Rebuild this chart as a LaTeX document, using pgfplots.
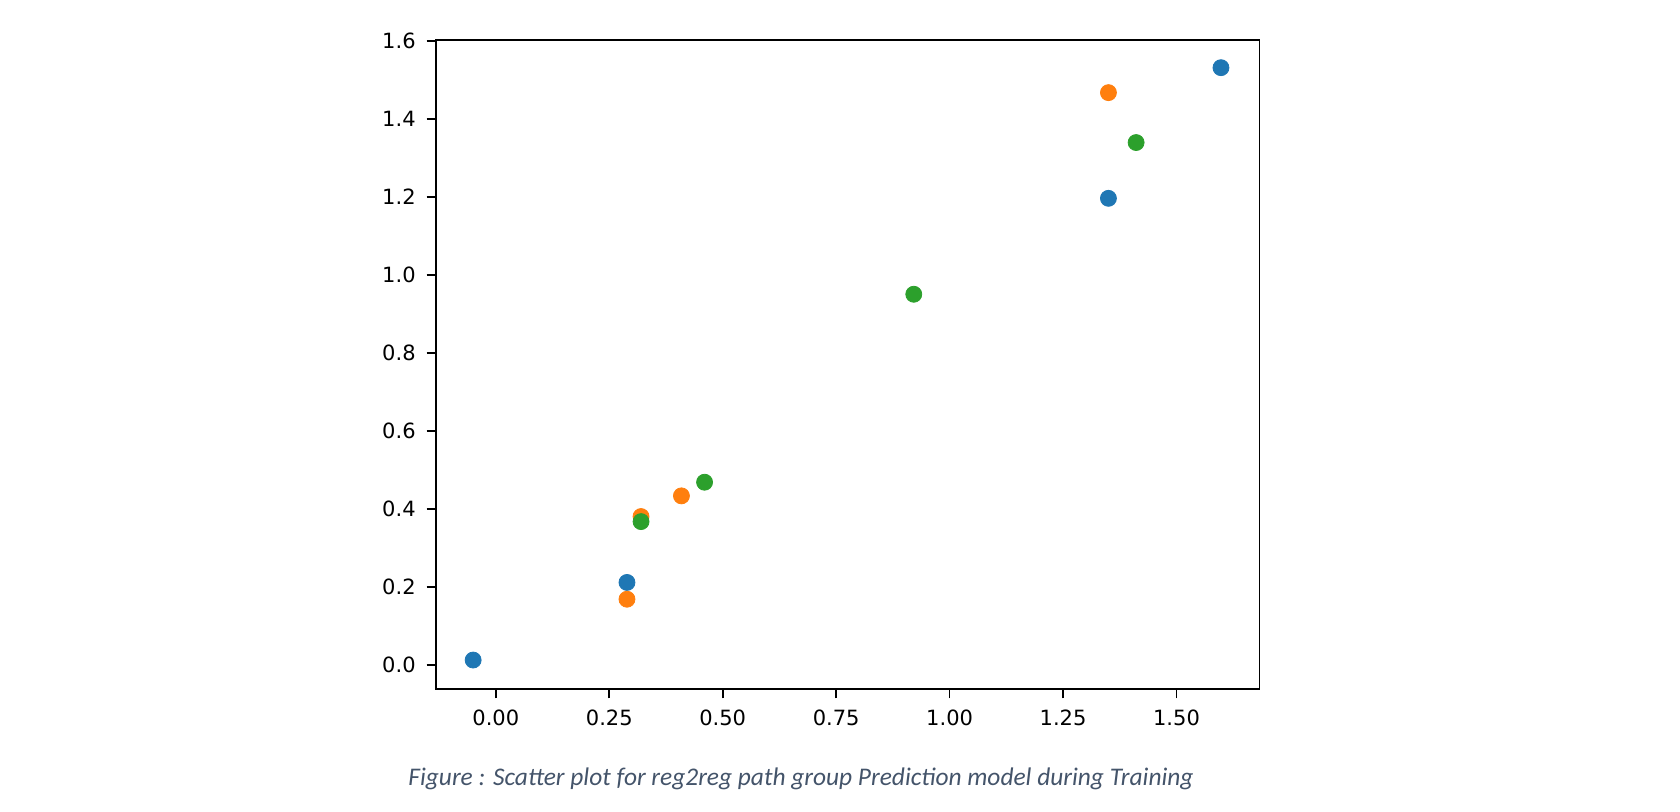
\documentclass[border=0pt]{standalone}
\usepackage{pgfplots}
\pgfplotsset{compat=1.18}
\usepackage{fontspec}
\setmainfont{DejaVu Sans}
\newfontfamily\capfont{Carlito}

\definecolor{tabblue}{HTML}{1F77B4}
\definecolor{taborange}{HTML}{FF7F0E}
\definecolor{tabgreen}{HTML}{2CA02C}
\definecolor{capcol}{HTML}{44546A}

\begin{document}
\begin{tikzpicture}
    \path[use as bounding box] (0,0) rectangle (840pt,406pt);
    \begin{axis}[
        at={(217.85pt,61.35pt)},
        anchor=south west,
        scale only axis,
        width=411.8pt,
        height=324.65pt,
        xmin=-0.1325, xmax=1.6825,
        ymin=-0.063, ymax=1.602,
        xtick={0,0.25,0.5,0.75,1,1.25,1.5},
        ytick={0,0.2,0.4,0.6,0.8,1.0,1.2,1.4,1.6},
        xticklabels={0.00,0.25,0.50,0.75,1.00,1.25,1.50},
        yticklabels={0.0,0.2,0.4,0.6,0.8,1.0,1.2,1.4,1.6},
        tick align=outside,
        major tick length=4.5pt,
        tick style={black, line width=0.8pt},
        axis line style={line width=0.8pt},
        xtick pos=bottom,
        ytick pos=left,
        ticklabel style={font=\fontsize{10.5}{12}\selectfont},
        yticklabel style={xshift=-2pt},
        xticklabel style={yshift=-2.5pt},
        /pgf/number format/assume math mode=true,
    ]
    % blue series
    \addplot[only marks, mark=*, mark size=4pt, tabblue, mark options={draw=tabblue, fill=tabblue}] coordinates {
        (-0.05, 0.012)
        (0.289, 0.211)
        (1.350, 1.196)
        (1.598, 1.531)
    };
    % orange series
    \addplot[only marks, mark=*, mark size=4pt, taborange, mark options={draw=taborange, fill=taborange}] coordinates {
        (0.289, 0.168)
        (0.320, 0.380)
        (0.409, 0.433)
        (1.350, 1.467)
    };
    % green series
    \addplot[only marks, mark=*, mark size=4pt, tabgreen, mark options={draw=tabgreen, fill=tabgreen}] coordinates {
        (0.320, 0.367)
        (0.460, 0.468)
        (0.921, 0.950)
        (1.411, 1.339)
    };
    \end{axis}
    \node[anchor=base, inner sep=0pt, text=capcol, font=\capfont\itshape\fontsize{12.7}{15}\selectfont] at (400.5pt,13pt)
        {Figure : Scatter plot for reg2reg path group Prediction model during Training};
\end{tikzpicture}
\end{document}
